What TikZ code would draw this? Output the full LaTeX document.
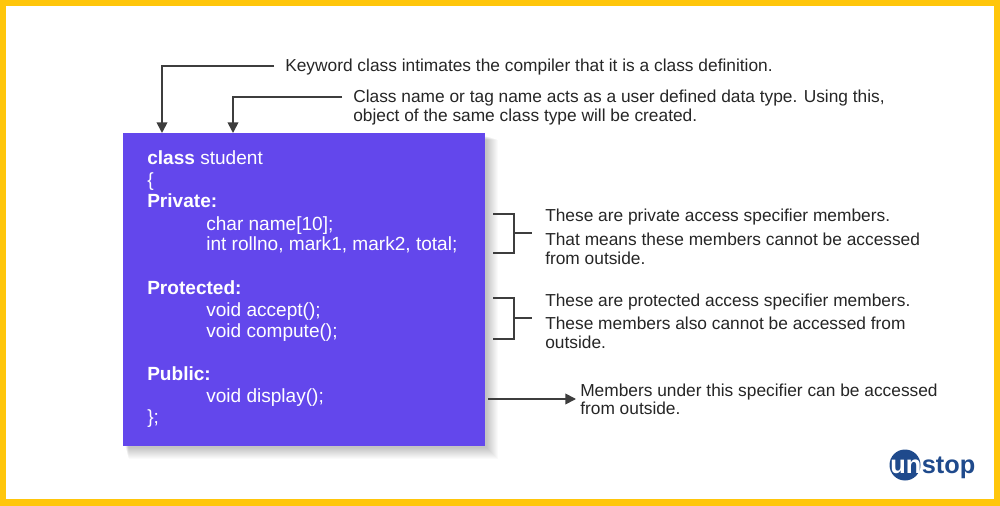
\documentclass[tikz,border=0pt]{standalone}
\usepackage{fontspec}
\setmainfont{Liberation Sans}
\usetikzlibrary{arrows.meta}
\definecolor{frameY}{HTML}{FFC60B}
\definecolor{boxP}{HTML}{6347EC}
\definecolor{lineG}{HTML}{3D3D3D}
\definecolor{txtG}{HTML}{262626}
\definecolor{logoB}{HTML}{1F4A8C}
\tikzset{
  ann/.style={anchor=base west, inner sep=0pt, text=txtG, font=\fontsize{13pt}{15pt}\selectfont},
  code/.style={anchor=base west, inner sep=0pt, text=white, font=\fontsize{14.3pt}{16pt}\selectfont},
  conn/.style={draw=lineG, line width=1.3pt},
  arr/.style={conn, -{Triangle[length=8pt,width=8pt]}},
}
\begin{document}
\begin{tikzpicture}[x=0.75pt,y=-0.75pt]
\useasboundingbox (0,0) rectangle (1000,506);
% frame
\fill[frameY] (0,0) rectangle (1000,506);
\fill[white] (6,6) rectangle (994,499);
% shadow
\foreach \i in {1,...,12}{
  \fill[black,opacity=0.018] (125+\i*0.3,136+\i*0.3) rectangle (486+\i,447+\i);
}
% box
\node[fill=boxP, minimum width=362*0.75pt, minimum height=313*0.75pt, inner sep=0pt, anchor=north west] (box) at (123,133) {};
% code lines
\node[code] (l1) at (147,165) {\textbf{class} student};
\node[code] (l2) at (147,187) {\{};
\node[code] (l3) at (147,208) {\textbf{Private:}};
\node[code] (l4) at (206,230) {char name[10];};
\node[code] (l5) at (206,251) {int rollno, mark1, mark2, total;};
\node[code] (l6) at (147,294) {\textbf{Protected:}};
\node[code] (l7) at (206,316) {void accept();};
\node[code] (l8) at (206,337) {void compute();};
\node[code] (l9) at (147,380) {\textbf{Public:}};
\node[code] (l10) at (206,402) {void display();};
\node[code] (l11) at (147,423) {\};};
% top annotations
\node[ann] (t1) at (285,72) {Keyword class intimates the compiler that it is a class definition.};
\node[ann] (t2a) at (353,103) {Class name or tag name acts as a user defined data type. Using this,};
\node[ann] (t2b) at (353,122) {object of the same class type will be created.};
\coordinate (t1s) at (274,66);
\coordinate (t2s) at (342,97);
\coordinate (a1) at (162,133);
\coordinate (a2) at (233,133);
\draw[arr] (t1s) -- (a1 |- t1s) -- (a1);
\draw[arr] (t2s) -- (a2 |- t2s) -- (a2);
% private bracket
\coordinate (p1) at (493,214);
\coordinate (p2) at (493,253);
\coordinate (pm) at (532,233);
\draw[conn] (p1) -- (514,214) -- (514,253) -- (p2);
\draw[conn] (514,233) -- (pm);
\node[ann] (r1) at (545,222) {These are private access specifier members.};
\node[ann] (r2) at (545,246) {That means these members cannot be accessed};
\node[ann] (r3) at (545,264) {from outside.};
% protected bracket
\coordinate (q1) at (493,298);
\coordinate (q2) at (493,339);
\coordinate (qm) at (532,318);
\draw[conn] (q1) -- (514,298) -- (514,339) -- (q2);
\draw[conn] (514,318) -- (qm);
\node[ann] (s1) at (545,306) {These are protected access specifier members.};
\node[ann] (s2) at (545,329) {These members also cannot be accessed from};
\node[ann] (s3) at (545,348) {outside.};
% public arrow
\coordinate (u0) at (488,399);
\coordinate (u1) at (576,399);
\draw[arr] (u0) -- (u1);
\node[ann] (v1) at (580,396) {Members under this specifier can be accessed};
\node[ann] (v2) at (580,414) {from outside.};
% logo
\fill[logoB] (905,465) circle[radius=15.5];
\node[anchor=base west, inner sep=0pt, text=white, font=\fontsize{19pt}{19pt}\selectfont\bfseries] (un) at (890,473) {un};
\node[anchor=base west, inner sep=0pt, text=logoB, font=\fontsize{19pt}{19pt}\selectfont\bfseries] (stop) at (un.base east) {stop};
\end{tikzpicture}
\end{document}
